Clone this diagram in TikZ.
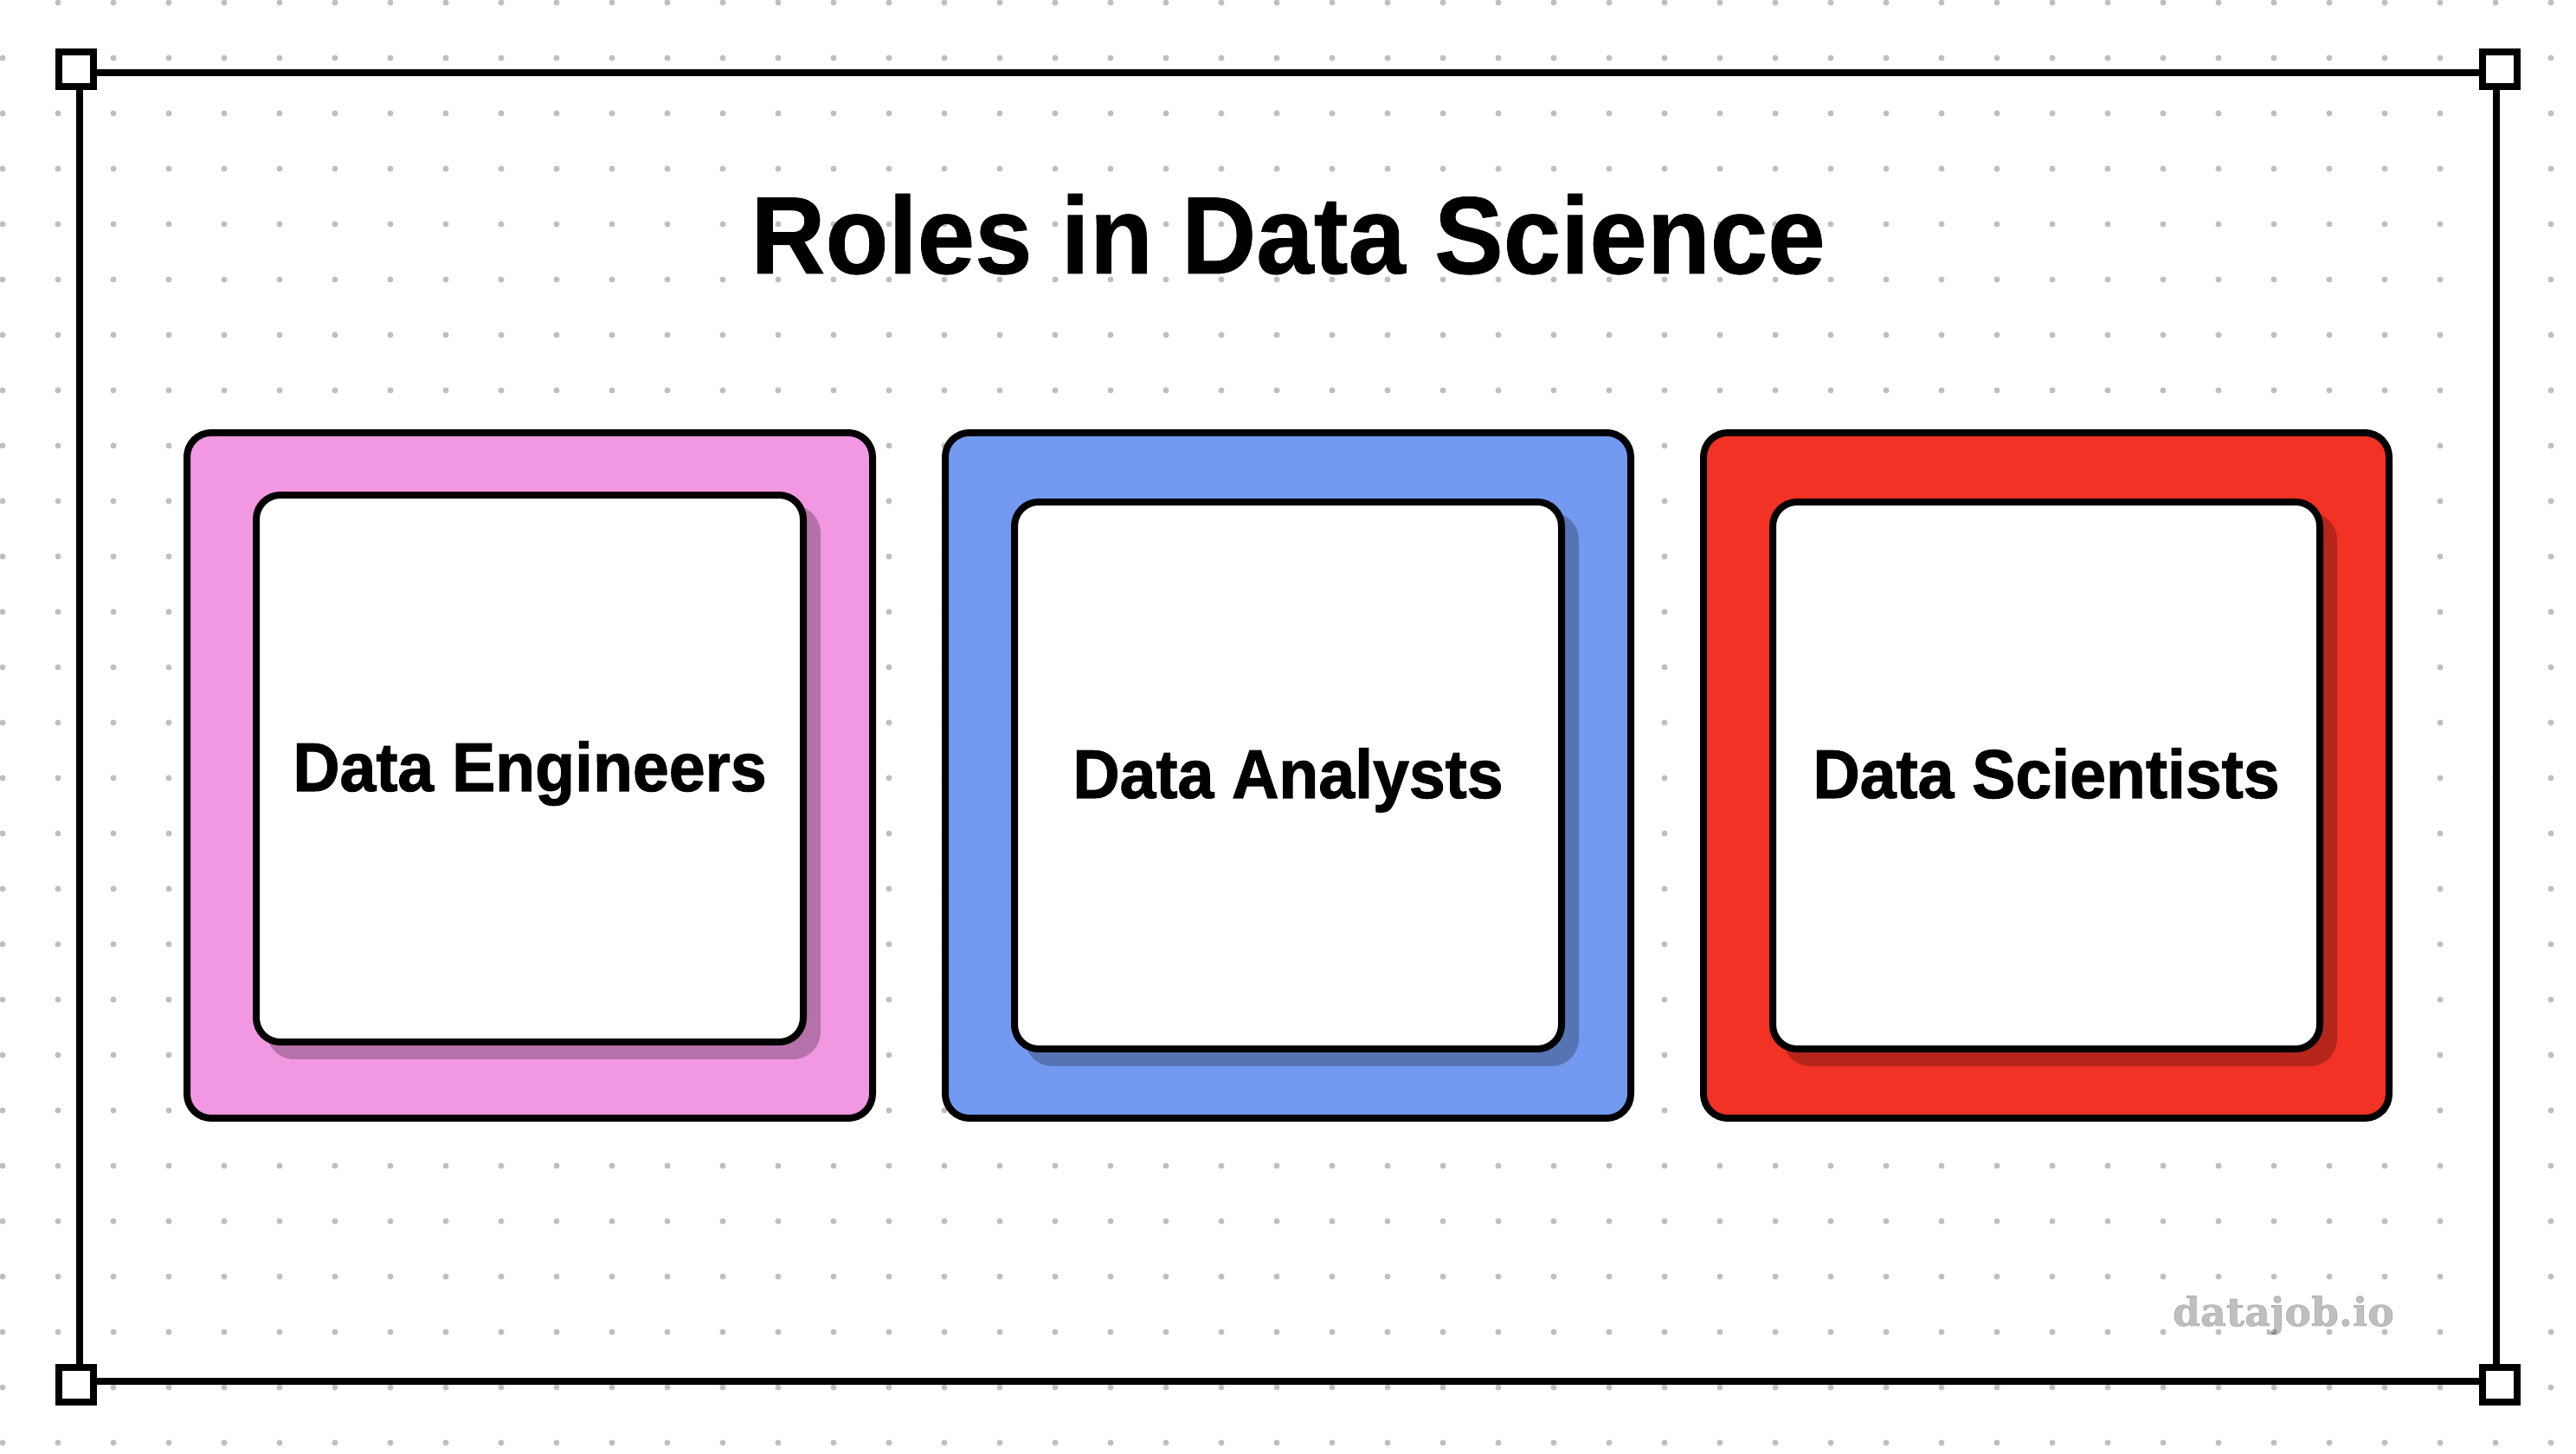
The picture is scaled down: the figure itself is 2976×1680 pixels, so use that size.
\documentclass[tikz,border=0pt]{standalone}
\usepackage{fontspec}
\setmainfont{Liberation Sans}
\newfontfamily\titlefont[BoldFeatures={FakeStretch=0.94,FakeBold=0.6}]{Liberation Sans}
\newfontfamily\labelfont[BoldFeatures={FakeStretch=0.945,FakeBold=1.3}]{Liberation Sans}
\newfontfamily\markfont[BoldFeatures={FakeBold=1.0}]{DejaVu Serif}
\definecolor{dotc}{HTML}{BFBFBF}
\definecolor{pinkc}{HTML}{F297E2}
\definecolor{bluec}{HTML}{739AF0}
\definecolor{redc}{HTML}{F23224}
\tikzset{
  x=0.24pt,y=-0.24pt,
  outerbox/.style={draw=black,line width=1.92pt,rounded corners=6.7pt,inner sep=0pt,minimum width=190.08pt,minimum height=190.08pt},
  innerbox/.style={draw=black,fill=white,line width=1.92pt,rounded corners=6.7pt,inner sep=0pt,minimum width=151.68pt,minimum height=151.68pt},
  shadowbox/.style={fill=black,fill opacity=0.25,rounded corners=7.7pt,inner sep=0pt,minimum width=153.6pt,minimum height=153.6pt},
  handle/.style={draw=black,fill=white,line width=1.92pt,inner sep=0pt,minimum width=9.6pt,minimum height=9.6pt},
  frameline/.style={draw=black,line width=1.92pt},
  titletext/.style={font=\titlefont\fontsize{30.5pt}{30.5pt}\selectfont\bfseries,anchor=base,inner sep=0pt},
  labeltext/.style={font=\labelfont\fontsize{19.1pt}{19.1pt}\selectfont\bfseries,anchor=base,inner sep=0pt},
  marktext/.style={font=\markfont\fontsize{11pt}{11pt}\selectfont\bfseries,anchor=base,inner sep=0pt,text=black,text opacity=0.25},
}
\begin{document}
\begin{tikzpicture}
\useasboundingbox (0,0) rectangle (2976,1680);
\fill[white] (0,0) rectangle (2976,1680);
% dot grid
\foreach \i in {0,...,46}{
  \foreach \j in {0,...,26}{
    \pgfmathparse{int(\i+\j)}
    \ifnum\pgfmathresult>0
      \fill[dotc] ({3+64*\i},{3+64*\j}) circle[radius=0.84pt];
    \fi
  }
}
% frame
\coordinate (f1) at (92,84);
\coordinate (f2) at (2884,84);
\coordinate (f3) at (2884,1596);
\coordinate (f4) at (92,1596);
\draw[frameline,line join=miter] (f1) -- (f2) -- (f3) -- (f4) -- cycle;
\node[handle] (h1) at (88,80) {};
\node[handle] (h2) at (2888,80) {};
\node[handle] (h3) at (2888,1600) {};
\node[handle] (h4) at (88,1600) {};
% title
\node[titletext] (title) at (1488,316) {Roles in Data Science};
% pink
\node[outerbox,fill=pinkc] (p) at (612,896) {};
\node[shadowbox] (ps) at (628,904) {};
\node[innerbox] (pi) at (612,888) {};
\node[labeltext] (pl) at (612,914) {Data Engineers};
% blue
\node[outerbox,fill=bluec] (b) at (1488,896) {};
\node[shadowbox] (bs) at (1504,912) {};
\node[innerbox] (bi) at (1488,896) {};
\node[labeltext] (bl) at (1488,922) {Data Analysts};
% red
\node[outerbox,fill=redc] (r) at (2364,896) {};
\node[shadowbox] (rs) at (2380,912) {};
\node[innerbox] (ri) at (2364,896) {};
\node[labeltext] (rl) at (2364,922) {Data Scientists};
% watermark
\node[marktext] (mark) at (2638,1532) {datajob.io};
\end{tikzpicture}
\end{document}
